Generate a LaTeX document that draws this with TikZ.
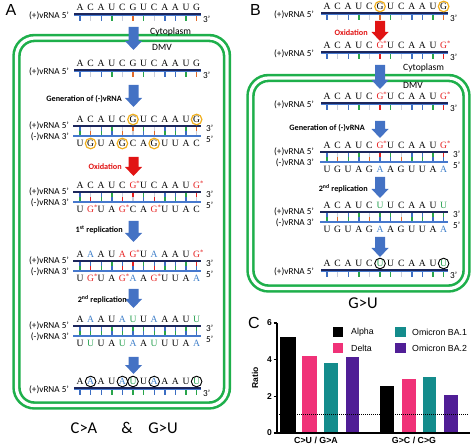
\documentclass[tikz,border=0pt]{standalone}
\usepackage{fontspec}
\setmainfont{Carlito}
\newfontfamily\arialf{Liberation Sans}
\newfontfamily\serf{Liberation Serif}
\definecolor{navy}{RGB}{28,38,92}
\definecolor{strandblue}{RGB}{70,120,205}
\definecolor{cA}{RGB}{60,110,195}
\definecolor{cC}{RGB}{200,204,218}
\definecolor{cU}{RGB}{40,165,75}
\definecolor{cG}{RGB}{225,105,40}
\definecolor{cR}{RGB}{230,30,30}
\definecolor{tA}{RGB}{60,125,200}
\definecolor{tU}{RGB}{40,160,80}
\definecolor{tR}{RGB}{230,30,30}
\definecolor{boxgreen}{RGB}{30,175,75}
\definecolor{ycirc}{RGB}{240,175,30}
\definecolor{arrowblue}{RGB}{68,114,196}
\definecolor{arrowred}{RGB}{225,20,20}
\definecolor{delta}{RGB}{240,50,120}
\definecolor{baone}{RGB}{20,140,140}
\definecolor{batwo}{RGB}{80,30,150}
\newcommand\Gs{G\rlap{\textsuperscript{*}}}
\def\Lorig{A/black/cA,C/black/cC,A/black/cA,U/black/cU,C/black/cC,G/black/cG,U/black/cU,C/black/cC,A/black/cA,A/black/cA,U/black/cU,G/black/cG}
\def\Lox{A/black/cA,C/black/cC,A/black/cA,U/black/cU,C/black/cC,\Gs/tR/cR,U/black/cU,C/black/cC,A/black/cA,A/black/cA,U/black/cU,\Gs/tR/cR}
\def\Lcomp{U/black/cU,G/black/cG,U/black/cU,A/black/cA,G/black/cG,C/black/cC,A/black/cA,G/black/cG,U/black/cU,U/black/cU,A/black/cA,C/black/cC}
\def\LcompOx{U/black/cU,\Gs/tR/cR,U/black/cU,A/black/cA,\Gs/tR/cR,C/black/cC,A/black/cA,\Gs/tR/cR,U/black/cU,U/black/cU,A/black/cA,C/black/cC}
\def\LfirstTop{A/black/cA,A/tA/cA,A/black/cA,U/black/cU,A/tR/cA,\Gs/tR/cR,U/black/cU,A/tA/cA,A/black/cA,A/black/cA,U/black/cU,\Gs/tR/cR}
\def\LfirstBot{U/black/cU,\Gs/tR/cR,U/black/cU,A/black/cA,\Gs/tR/cR,A/tA/cA,A/black/cA,\Gs/tR/cR,U/black/cU,U/black/cU,A/black/cA,A/tA/cA}
\def\LsecTop{A/black/cA,A/tA/cA,A/black/cA,U/black/cU,A/tA/cA,U/tU/cU,U/black/cU,A/tA/cA,A/black/cA,A/black/cA,U/black/cU,U/tU/cU}
\def\LsecBot{U/black/cU,U/tU/cU,U/black/cU,A/black/cA,U/tU/cU,A/tA/cA,A/black/cA,U/tU/cU,U/black/cU,U/black/cU,A/black/cA,A/tA/cA}
\def\LBcomp{U/black/cU,G/black/cG,U/black/cU,A/black/cA,G/black/cG,A/tA/cA,A/black/cA,G/black/cG,U/black/cU,U/black/cU,A/black/cA,A/tA/cA}
\def\LBfinal{A/black/cA,C/black/cC,A/black/cA,U/black/cU,C/black/cC,U/tU/cU,U/black/cU,C/black/cC,A/black/cA,A/black/cA,U/black/cU,U/tU/cU}
\newcommand\srow[4]{%
  \draw[navy,line width=2.4] (#2-6,#3) -- (#2+121,#3);
  \draw[strandblue,line width=0.9] (#2-6,#3+1.8) -- (#2+121,#3+1.8);
  \foreach \bs/\bc/\bk [count=\i] in #4{
    \node[base,text=\bc] (#1-\i) at (#2+\i*10.6-10.6,#3-6.5) {\bs};
    \draw[draw=\bk,line width=1.4] (#2+\i*10.6-10.6,#3+2.3) -- (#2+\i*10.6-10.6,#3+7);
  }
  \node[endlbl] (#1-e) at (#2+123,#3+5) {3’};
}
\newcommand\drow[5]{%
  \draw[navy,line width=2.4] (#2-7,#3) -- (#2+121,#3);
  \draw[strandblue,line width=2] (#2-7,#3+10) -- (#2+121,#3+10);
  \foreach \bs/\bc/\bk [count=\i] in #4{
    \node[base,text=\bc] (#1t-\i) at (#2+\i*10.6-10.6,#3-6.5) {\bs};
    \draw[draw=\bk,line width=1.4] (#2+\i*10.6-10.6,#3+1.2) -- (#2+\i*10.6-10.6,#3+5);
  }
  \foreach \bs/\bc/\bk [count=\i] in #5{
    \node[base,text=\bc] (#1b-\i) at (#2+\i*10.6-10.6,#3+17.5) {\bs};
    \draw[draw=\bk,line width=1.4] (#2+\i*10.6-10.6,#3+5) -- (#2+\i*10.6-10.6,#3+9);
  }
  \node[endlbl] (#1-e3) at (#2+126,#3+2) {3’};
  \node[endlbl] (#1-e5) at (#2+126,#3+13) {5’};
}
\newcommand\blockarrow[4]{%
  \fill[#1] (#2-5,#3) -- (#2+5,#3) -- (#2+5,#4-9) -- (#2+8.5,#4-9) -- (#2,#4)
    -- (#2-8.5,#4-9) -- (#2-5,#4-9) -- cycle;}
\begin{document}
\begin{tikzpicture}[x=1pt,y=-1pt,
  base/.style={font=\serf\fontsize{9.6}{10}\selectfont,inner sep=0,text height=6.6pt,text depth=0pt,anchor=center},
  endlbl/.style={font=\fontsize{9.2}{10}\selectfont,inner sep=0,anchor=west},
  rowlbl/.style={font=\fontsize{9.2}{10}\selectfont,inner sep=0,anchor=east},
  steplbl/.style={font=\bfseries\fontsize{8.2}{9}\selectfont,inner sep=0,anchor=east},
  oxlbl/.style={font=\bfseries\fontsize{8.2}{9}\selectfont,text=arrowred,inner sep=0,anchor=east},
  loclbl/.style={font=\fontsize{9.6}{10}\selectfont,inner sep=0,anchor=west},
  panel/.style={font=\arialf\fontsize{16}{16}\selectfont,inner sep=0},
  bigtxt/.style={font=\fontsize{16.5}{17}\selectfont,inner sep=0},
  dmvbox/.style={draw=boxgreen,line width=2.6,double=white,double distance=3.2,rounded corners=18},
  ycircle/.style={draw=ycirc,line width=1.2},
  kcircle/.style={draw=black,line width=0.9},
  chart/.style={font=\arialf\bfseries\fontsize{8.8}{9}\selectfont,inner sep=0},
  ticklbl/.style={font=\arialf\bfseries\fontsize{8.5}{9}\selectfont,inner sep=0,anchor=east},
  legtxt/.style={font=\arialf\fontsize{8.8}{9}\selectfont,inner sep=0,anchor=west}
]
\useasboundingbox (0,0) rectangle (474,446);

% ---------------- Panel A ----------------
\node[panel] (pA) at (11,10.5) {A};
\draw[dmvbox] (16.5,38) rectangle (227,405.5);

\node[rowlbl] (la1) at (69,16) {(+)vRNA 5’};
\srow{a1}{80}{14}{\Lorig}
\blockarrow{arrowblue}{133.5}{27}{50}
\node[loclbl] (cytA) at (150,32) {Cytoplasm};
\node[loclbl] (dmvA) at (152,47) {DMV};

\node[rowlbl] (la2) at (69,72) {(+)vRNA 5’};
\srow{a2}{80}{70}{\Lorig}
\blockarrow{arrowblue}{133.5}{85}{107}
\node[steplbl] (genA) at (122,99) {Generation of (-)vRNA};

\node[rowlbl] (la3p) at (69,126) {(+)vRNA 5’};
\node[rowlbl] (la3m) at (69,136.5) {(-)vRNA 3’};
\drow{a3}{80}{126}{\Lorig}{\Lcomp}
\foreach \j in {6,12} \draw[ycircle] (a3t-\j.center) circle (5.3);
\foreach \j in {2,5,8} \draw[ycircle] (a3b-\j.center) circle (5.3);

\blockarrow{arrowred}{133.5}{157}{176}
\node[oxlbl] (oxA) at (122,167) {Oxidation};

\node[rowlbl] (la4p) at (69,192) {(+)vRNA 5’};
\node[rowlbl] (la4m) at (69,202.5) {(-)vRNA 3’};
\drow{a4}{80}{192}{\Lox}{\LcompOx}

\blockarrow{arrowblue}{133.5}{221}{242}
\node[steplbl] (rep1A) at (123,230) {1\textsuperscript{st} replication};

\node[rowlbl] (la5p) at (69,261) {(+)vRNA 5’};
\node[rowlbl] (la5m) at (69,271.5) {(-)vRNA 3’};
\drow{a5}{80}{261}{\LfirstTop}{\LfirstBot}

\blockarrow{arrowblue}{133.5}{289}{308}
\node[steplbl] (rep2A) at (127,300) {2\textsuperscript{nd} replication};

\node[rowlbl] (la6p) at (69,326) {(+)vRNA 5’};
\node[rowlbl] (la6m) at (69,336.5) {(-)vRNA 3’};
\drow{a6}{80}{326}{\LsecTop}{\LsecBot}

\blockarrow{arrowblue}{133.5}{357}{374}

\node[rowlbl] (la7) at (69,390) {(+)vRNA 5’};
\srow{a7}{80}{388}{\LsecTop}
\foreach \j in {2,5,6,8,12} \draw[kcircle] (a7-\j.center) circle (5.3);

\node[bigtxt] (caA) at (84,428) {C>A};
\node[bigtxt] (amp) at (127,428) {\&};
\node[bigtxt] (guA) at (163,428) {G>U};

% ---------------- Panel B ----------------
\node[panel] (pB) at (255.5,10.5) {B};
\draw[dmvbox] (250.5,78) rectangle (466.5,288.5);

\node[rowlbl] (lb1) at (314,15) {(+)vRNA 5’};
\srow{b1}{327}{13}{\Lorig}
\foreach \j in {6,12} \draw[ycircle] (b1-\j.center) circle (5.3);

\blockarrow{arrowred}{380}{21}{41}
\node[oxlbl] (oxB) at (368,33) {Oxidation};

\node[rowlbl] (lb2) at (314,54) {(+)vRNA 5’};
\srow{b2}{327}{52}{\Lox}

\blockarrow{arrowblue}{380}{65}{89}
\node[loclbl] (cytB) at (403,68) {Cytoplasm};
\node[loclbl] (dmvB) at (403,85) {DMV};

\node[rowlbl] (lb3) at (314,105) {(+)vRNA 5’};
\srow{b3}{327}{103}{\Lox}

\blockarrow{arrowblue}{380}{121}{138}
\node[steplbl] (genB) at (365,128) {Generation of (-)vRNA};

\node[rowlbl] (lb4p) at (314,152) {(+)vRNA 5’};
\node[rowlbl] (lb4m) at (314,162.5) {(-)vRNA 3’};
\drow{b4}{327}{152}{\Lox}{\LBcomp}

\blockarrow{arrowblue}{380}{177}{198}
\node[steplbl] (rep2B) at (368,189) {2\textsuperscript{nd} replication};

\node[rowlbl] (lb5p) at (314,212) {(+)vRNA 5’};
\node[rowlbl] (lb5m) at (314,222.5) {(-)vRNA 3’};
\drow{b5}{327}{212}{\LBfinal}{\LBcomp}

\blockarrow{arrowblue}{380}{237}{257}

\node[rowlbl] (lb6) at (314,272) {(+)vRNA 5’};
\srow{b6}{327}{270}{\LBfinal}
\foreach \j in {6,12} \draw[kcircle] (b6-\j.center) circle (5.3);

\node[bigtxt] (guB) at (363,303) {G>U};

% ---------------- Panel C ----------------
\node[panel] (pC) at (254,323) {C};
\fill[black]  (280,433) rectangle (296,433-18.33*5.25);
\fill[delta]  (302,433) rectangle (317,433-18.33*4.18);
\fill[baone]  (324,433) rectangle (338,433-18.33*3.80);
\fill[batwo]  (346,433) rectangle (359,433-18.33*4.12);
\fill[black]  (380,433) rectangle (394,433-18.33*2.58);
\fill[delta]  (402,433) rectangle (416,433-18.33*2.92);
\fill[baone]  (423,433) rectangle (436,433-18.33*3.05);
\fill[batwo]  (444,433) rectangle (458,433-18.33*2.05);
\draw[line width=0.7,dash pattern=on 1pt off 1pt] (277,414.7) -- (468,414.7);
\draw[line width=1.1] (277,323) -- (277,433) -- (470,433);
\foreach \v in {0,2,4,6}{
  \draw[line width=1.1] (273.5,433-18.33*\v) -- (277,433-18.33*\v);
  \node[ticklbl] (tk\v) at (272,433-18.33*\v) {\v};
}
\node[chart,rotate=90,font=\arialf\bfseries\fontsize{8.5}{9}\selectfont] (ratio) at (255,378) {Ratio};
\node[chart] (g1) at (316,440) {C>U / G>A};
\node[chart] (g2) at (414,440) {G>C / C>G};
\fill[black] (333,327) rectangle (343,337);
\node[legtxt] (lgA) at (351,332) {Alpha};
\fill[delta] (333,343) rectangle (343,353);
\node[legtxt] (lgD) at (351,348) {Delta};
\fill[baone] (395,327) rectangle (406,337);
\node[legtxt] (lg1) at (412,332) {Omicron BA.1};
\fill[batwo] (395,343) rectangle (406,353);
\node[legtxt] (lg2) at (412,348) {Omicron BA.2};
\end{tikzpicture}
\end{document}
